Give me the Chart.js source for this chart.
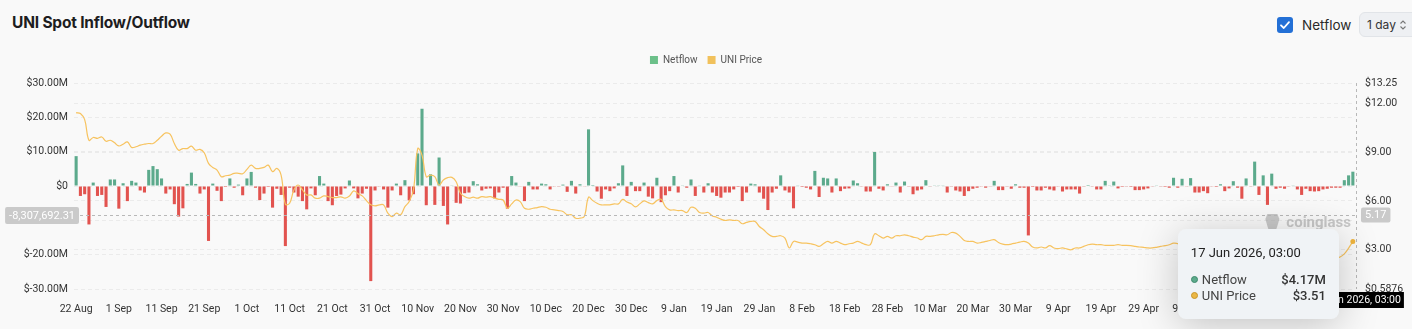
<!DOCTYPE html>
<html><head><meta charset="utf-8">
<script src="https://cdn.jsdelivr.net/npm/chart.js@4.4.1/dist/chart.umd.min.js"></script>
<style>
html,body{margin:0;padding:0;background:#f9f9f9;}
body{width:1412px;height:329px;overflow:hidden;position:relative;font-family:Inter,"Noto Sans",sans-serif;}
#title{position:absolute;left:12px;top:13px;font-size:15.5px;font-weight:700;color:#1d1d1f;letter-spacing:-0.2px;line-height:20px;}
#cb{position:absolute;left:1277px;top:17px;width:16px;height:16px;border-radius:3px;background:#2470d6;}
#cbl{position:absolute;left:1302px;top:15px;font-size:13.5px;color:#2a2a2a;line-height:20px;}
#sel{position:absolute;left:1359px;top:12px;width:62px;height:25px;border-radius:6px;background:#eef0f3;border:1px solid #e1e4e8;box-sizing:border-box;font-size:12px;color:#333;}
#sel span{position:absolute;left:7px;top:4px;line-height:15px;}
#sel svg{position:absolute;left:39px;top:6px;}
#wrap{position:absolute;left:0;top:45px;width:1412px;height:284px;}
#tt{position:absolute;width:161px;box-sizing:border-box;padding:16px 13px 15px 13px;background:#f0f3f6;border-radius:8px;box-shadow:0 6px 40px rgba(0,0,0,0.22);font-family:Roboto,"Noto Sans",sans-serif;color:#333;pointer-events:none;}
#tt .t{font-size:13px;line-height:16px;color:#222;margin-bottom:11px;}
#tt .r{display:flex;align-items:center;font-size:13px;line-height:16px;}
#tt .d{width:7px;height:7px;border-radius:50%;margin-right:4px;box-sizing:border-box;}
#tt .l{flex:1;color:#444;}
#tt .v{color:#333;font-weight:500;}
</style>
</head>
<body>
<div id="title">UNI Spot Inflow/Outflow</div>
<div id="cb"><svg width="16" height="16" viewBox="0 0 16 16"><polyline points="4,8.3 6.8,11 12,5.2" fill="none" stroke="#fff" stroke-width="1.8" stroke-linecap="round" stroke-linejoin="round"/></svg></div>
<div id="cbl">Netflow</div>
<div id="sel"><span>1 day</span><svg width="8" height="12" viewBox="0 0 8 12"><polyline points="1.5,4.5 4,2 6.5,4.5" fill="none" stroke="#777" stroke-width="1.1"/><polyline points="1.5,7.5 4,10 6.5,7.5" fill="none" stroke="#777" stroke-width="1.1"/></svg></div>
<div id="wrap"><canvas id="c"></canvas></div>
<div id="tt" style="display:none"></div>
<script>
// ---------- data ----------
const startYear = 2025, startMonth = 7, startDay = 22; // 22 Aug 2025
const dayCount = 300;
const monthNames = ['Jan','Feb','Mar','Apr','May','Jun','Jul','Aug','Sep','Oct','Nov','Dec'];
const categories = [];
for (let i = 0; i < dayCount; i++) categories.push(new Date(Date.UTC(startYear, startMonth, startDay + i)));
const tickLabels = categories.map(d => d.getUTCDate() + ' ' + monthNames[d.getUTCMonth()]);
const tickEvery = 10;

// Netflow, in millions of USD
const netflowM = [
  8.7,-2.9,-2.4,-11.2,1.0,-2.9,-2.6,-6.1,1.9,1.9,
  -6.6,0.8,-4.4,1.5,1.0,-1.3,-1.9,4.7,5.8,4.9,
  2.2,-2.2,-1.0,-5.3,-8.9,-6.5,0.6,3.9,0.6,-2.2,
  -1.0,-16.0,0.7,-1.4,-4.4,-0.3,2.2,-0.5,0.4,-2.7,
  2.2,4.1,-0.5,-4.1,-2.2,-0.3,-6.3,-0.8,-2.6,-17.5,
  -0.5,-1.9,-3.1,-4.4,-6.8,-0.7,-2.7,2.9,0.7,-4.4,
  -5.6,-2.9,-2.5,-0.7,1.6,-0.7,-3.6,-2.2,-0.8,-27.7,
  -1.3,-0.2,-1.0,-6.3,-1.3,0.7,-2.7,1.7,-4.2,-2.4,
  9.5,22.5,-5.6,3.4,-5.5,8.3,-5.8,-11.2,0.2,-4.9,
  -5.1,-2.1,-1.9,1.4,0.5,-1.3,-0.8,-0.7,-3.6,-1.9,
  -0.5,-6.6,2.9,1.0,-0.2,-4.4,1.2,-1.0,-1.0,0.7,
  0.5,-1.0,-0.2,-0.2,0.4,-1.7,1.5,-2.2,0.5,-0.1,
  16.5,0.3,-1.6,-3.7,-1.0,-1.5,-0.7,0.8,6.0,-2.9,
  1.2,-1.5,-1.5,1.0,-3.1,-3.6,2.4,-4.7,-2.7,-1.5,
  2.9,-1.9,0.2,-0.5,1.9,-2.9,0.2,-1.9,0.8,-1.9,
  -2.9,-3.4,-1.9,-1.9,-1.0,-0.3,-4.4,-1.9,0.7,0.5,
  -1.9,-3.7,-7.0,-1.9,-0.8,3.1,-1.3,-1.9,-6.5,0.2,
  -0.3,-0.5,-1.0,4.4,-3.2,2.4,2.2,-1.9,2.2,-1.5,
  -0.8,-0.7,1.6,0.8,-0.2,-1.6,-1.6,9.9,-0.8,-1.3,
  0.5,-0.2,1.0,-1.9,1.3,-0.2,-2.4,-1.3,-1.0,1.7,
  -0.1,0.2,0.2,0.2,-1.9,-0.2,-1.3,-1.6,-2.9,-1.5,
  -0.8,-0.5,-0.2,-0.5,-0.2,1.5,-1.2,-1.2,-0.2,-0.8,
  0.5,-0.5,-0.5,-14.4,-0.3,-1.3,-1.3,-0.5,-1.0,-1.3,
  -0.2,-1.6,-1.0,-1.0,-1.0,-2.2,-0.2,0.3,-0.2,-1.0,
  -1.0,1.5,0.2,1.3,-0.7,-0.3,-0.2,-0.3,-1.2,-1.2,
  -1.0,-0.7,-0.2,0.2,-0.2,-0.3,-0.5,2.4,-0.5,2.1,
  -0.2,2.3,-1.9,-1.9,-1.5,-2.1,-0.2,-0.3,0.5,-1.5,
  -0.7,1.4,-0.5,-3.7,2.2,-0.2,7.1,-2.6,3.1,-5.5,
  3.6,-0.8,-0.5,-0.8,-0.2,0.2,-1.0,-2.6,-0.8,-1.5,
  -1.6,-1.5,-1.0,-0.8,-0.5,-0.5,-0.5,1.7,3.1,4.17
];

// UNI price, USD
const priceUSD = [
  11.43,11.37,11.0,9.73,9.9,9.85,9.93,9.67,9.73,9.57,
  9.38,9.49,9.63,9.29,9.33,9.43,9.49,9.53,9.53,9.73,
  9.98,10.18,10.1,9.53,9.12,9.22,9.22,9.37,9.12,9.17,
  8.96,8.31,8.06,7.9,7.49,7.55,7.59,7.7,7.7,7.67,
  7.94,8.2,8.0,8.0,8.06,8.2,7.8,8.0,7.59,5.8,
  5.86,6.68,6.98,6.68,6.37,6.37,6.17,6.17,6.31,6.27,
  6.21,6.21,6.25,6.17,6.3,6.62,6.45,6.31,6.02,5.76,
  5.7,5.76,5.76,5.25,5.04,5.25,5.15,5.65,5.96,6.68,
  9.22,8.82,7.49,7.59,7.49,6.98,7.29,7.43,7.45,7.18,
  6.47,6.27,6.17,6.23,6.17,6.27,6.23,6.27,6.17,6.1,
  6.06,5.55,5.82,6.06,5.96,5.55,5.49,5.55,5.59,5.65,
  5.61,5.49,5.45,5.41,5.35,5.15,5.15,4.94,4.94,5.04,
  6.23,6.02,5.86,5.76,5.76,5.76,5.82,5.82,6.1,5.93,
  5.83,5.63,5.82,6.0,5.9,5.82,6.02,6.1,5.65,5.45,
  5.45,5.41,5.41,5.29,5.61,5.55,5.29,5.25,5.29,5.08,
  5.0,4.88,4.8,4.84,4.8,4.8,4.6,4.68,4.74,4.74,
  4.43,4.23,3.98,3.82,3.82,3.86,3.72,3.11,3.51,3.47,
  3.41,3.41,3.37,3.31,3.21,3.37,3.51,3.41,3.51,3.41,
  3.31,3.37,3.41,3.51,3.41,3.31,3.31,3.98,3.86,3.72,
  3.82,3.72,3.86,3.86,3.92,3.86,3.78,3.72,3.62,3.82,
  3.82,3.86,3.92,3.95,3.92,4.06,4.02,3.82,3.57,3.51,
  3.51,3.41,3.45,3.51,3.57,3.62,3.45,3.35,3.31,3.35,
  3.41,3.47,3.51,3.41,3.17,3.11,3.17,3.11,3.25,3.11,
  3.07,3.11,3.05,3.0,3.11,3.11,3.21,3.31,3.35,3.31,
  3.31,3.27,3.27,3.27,3.31,3.27,3.27,3.25,3.21,3.17,
  3.15,3.11,3.11,3.15,3.21,3.25,3.31,3.41,3.38,3.32,
  3.33,3.26,3.29,3.18,3.12,3.15,3.04,2.98,3.02,2.93,
  2.87,2.91,2.84,2.79,2.83,2.76,2.71,2.74,2.68,2.63,
  2.66,2.6,2.57,2.61,2.55,2.52,2.56,2.5,2.47,2.51,
  2.46,2.43,2.47,2.41,2.44,2.47,2.55,2.75,3.1,3.51
];

const netflowTicks = [-30,-20,-10,0,10,20,30];
const netflowTickLabels = ['$-30.00M','$-20.00M','$-10.00M','$0','$10.00M','$20.00M','$30.00M'];
const priceTicks = [0.5876,3,6,9,12,13.25];
const priceTickLabels = ['$0.5876','$3.00','$6.00','$9.00','$12.00','$13.25'];

const hoverIndex = 299;
const hoverTime = '03:00';
const crosshairNetflow = -8307692.31;

// ---------- styles ----------
const GREEN = '#5caa8c', RED = '#e2534f', PRICE = '#f7c35f';
const LEGEND_GREEN = '#6cc08a', LEGEND_PRICE = '#f1c15c';
const TICK_FONT = {family:'Roboto', size:10.5};

function fullDate(i){ const d = categories[i]; return d.getUTCDate()+' '+monthNames[d.getUTCMonth()]+' '+d.getUTCFullYear()+', '+hoverTime; }

function externalTooltip(context){
  const {chart, tooltip} = context;
  const el = document.getElementById('tt');
  if (!tooltip || tooltip.opacity === 0 || !tooltip.dataPoints || !tooltip.dataPoints.length){ el.style.display='none'; return; }
  const idx = tooltip.dataPoints[0].dataIndex;
  const pts = tooltip.dataPoints.slice().sort((a,b)=>a.datasetIndex-b.datasetIndex);
  let html = '<div class="t">'+fullDate(idx)+'</div>';
  pts.forEach(p=>{
    const isFlow = p.datasetIndex===0;
    const col = isFlow ? GREEN : '#ebb746';
    const border = isFlow ? '#3f8a6d' : '#c8962a';
    const val = isFlow ? '$'+p.raw.toFixed(2)+'M' : '$'+p.raw.toFixed(2);
    html += '<div class="r"><span class="d" style="background:'+col+';border:1px solid '+border+'"></span><span class="l">'+p.dataset.label+'</span><span class="v">'+val+'</span></div>';
  });
  el.innerHTML = html;
  el.style.display = 'block';
  const wrap = document.getElementById('wrap');
  const crossY = chart.scales.y.getPixelForValue(crosshairNetflow/1e6);
  el.style.left = (wrap.offsetLeft + tooltip.caretX - el.offsetWidth - 14) + 'px';
  el.style.top = (wrap.offsetTop + crossY + 14) + 'px';
}

const legendGap = {
  id:'legendGap',
  beforeInit(chart){
    if (!chart.legend) return;
    const orig = chart.legend.fit;
    chart.legend.fit = function(){ orig.call(this); this.height += 8; };
  }
};

const overlay = {
  id:'overlay',
  beforeDatasetsDraw(chart){
    const {ctx, chartArea:a} = chart;
    ctx.save();
    ctx.fillStyle = 'rgba(160,160,160,0.55)';
    ctx.font = 'bold 15px Roboto';
    ctx.textAlign = 'right'; ctx.textBaseline = 'middle';
    const wy = a.bottom - 66;
    ctx.fillText('coinglass', a.right - 4, wy);
    const tw = ctx.measureText('coinglass').width;
    const lx = a.right - 4 - tw - 22;
    ctx.beginPath();
    ctx.moveTo(lx+3, wy-9); ctx.lineTo(lx+13, wy-9); ctx.lineTo(lx+15, wy-4); ctx.lineTo(lx+13, wy+3);
    ctx.lineTo(lx+11, wy+9); ctx.lineTo(lx+5, wy+9); ctx.lineTo(lx+3, wy+3); ctx.lineTo(lx+1, wy-4); ctx.closePath();
    ctx.fill();
    ctx.restore();
  },
  afterDatasetsDraw(chart){
    const {ctx, chartArea:a, scales} = chart;
    const x = Math.round(a.right + 1) + 0.5;
    const yPix = scales.y.getPixelForValue(crosshairNetflow/1e6);
    const y = Math.round(yPix) + 0.5;
    ctx.save();
    ctx.strokeStyle = '#b8b8b8'; ctx.lineWidth = 1; ctx.setLineDash([3,3]);
    ctx.beginPath(); ctx.moveTo(x, a.top); ctx.lineTo(x, a.bottom); ctx.stroke();
    ctx.beginPath(); ctx.moveTo(a.left, y); ctx.lineTo(x, y); ctx.stroke();
    ctx.setLineDash([]);
    ctx.font = '11px Roboto'; ctx.textBaseline = 'middle';
    // left value label
    const lt = crosshairNetflow.toLocaleString('en-US',{minimumFractionDigits:2,maximumFractionDigits:2});
    const lw = ctx.measureText(lt).width + 8;
    const lr = a.left + 5;
    ctx.fillStyle = '#cacaca';
    roundRect(ctx, lr - lw, y - 8.5, lw, 17, 2); ctx.fill();
    ctx.fillStyle = '#ffffff'; ctx.textAlign = 'center';
    ctx.fillText(lt, lr - lw/2, y + 0.5);
    // right value label
    const rt = scales.y1.getValueForPixel(yPix).toFixed(2);
    const rw = ctx.measureText(rt).width + 8;
    ctx.fillStyle = '#cacaca';
    roundRect(ctx, a.right + 6, y - 8, rw, 15, 2); ctx.fill();
    ctx.fillStyle = '#ffffff';
    ctx.fillText(rt, a.right + 6 + rw/2, y);
    // bottom date label
    ctx.font = '10.5px Roboto';
    const bt = fullDate(hoverIndex);
    const bw = ctx.measureText(bt).width + 6;
    ctx.fillStyle = '#000000';
    ctx.fillRect(x - bw/2, a.bottom + 3, bw, 16);
    ctx.fillStyle = '#ffffff';
    ctx.fillText(bt, x, a.bottom + 11.5);
    ctx.restore();
  }
};
function roundRect(ctx,x,y,w,h,r){ ctx.beginPath(); ctx.moveTo(x+r,y); ctx.lineTo(x+w-r,y); ctx.quadraticCurveTo(x+w,y,x+w,y+r); ctx.lineTo(x+w,y+h-r); ctx.quadraticCurveTo(x+w,y+h,x+w-r,y+h); ctx.lineTo(x+r,y+h); ctx.quadraticCurveTo(x,y+h,x,y+h-r); ctx.lineTo(x,y+r); ctx.quadraticCurveTo(x,y,x+r,y); ctx.closePath(); }

const chart = new Chart(document.getElementById('c'), {
  type:'bar',
  data:{
    labels: tickLabels,
    datasets:[
      {type:'bar', label:'Netflow', data: netflowM, yAxisID:'y',
       backgroundColor: netflowM.map(v => v >= 0 ? GREEN : RED),
       hoverBackgroundColor: netflowM.map(v => v >= 0 ? GREEN : RED),
       barPercentage:0.72, categoryPercentage:1.0, order:2},
      {type:'line', label:'UNI Price', data: priceUSD, yAxisID:'y1',
       borderColor: PRICE, borderWidth:1.2, pointRadius:0, pointHoverRadius:2.5,
       pointHoverBackgroundColor:'#f0b43c', pointHoverBorderWidth:0, tension:0.4, order:1}
    ]
  },
  options:{
    responsive:true, maintainAspectRatio:false, animation:false,
    events:[],
    interaction:{mode:'index', intersect:false},
    layout:{padding:0},
    scales:{
      x:{
        grid:{display:false}, border:{display:false},
        ticks:{autoSkip:false, maxRotation:0, minRotation:0, padding:6, color:'#333', font:TICK_FONT,
          callback:(v,i)=> i % tickEvery === 0 ? tickLabels[i] : null},
        afterFit:s=>{ s.height = 40; }
      },
      y:{
        position:'left', min:-30, max:30,
        afterBuildTicks:s=>{ s.ticks = netflowTicks.map(v=>({value:v})); },
        ticks:{padding:6, color:'#333', font:TICK_FONT, callback:(v,i)=> netflowTickLabels[i]},
        grid:{color:'#ebebeb', drawTicks:false},
        border:{display:false, dash:[4,3]},
        afterFit:s=>{ s.width = 74; }
      },
      y1:{
        position:'right', min:priceTicks[0], max:priceTicks[priceTicks.length-1],
        afterBuildTicks:s=>{ s.ticks = priceTicks.map(v=>({value:v})); },
        ticks:{padding:10, color:'#333', font:TICK_FONT, callback:(v,i)=> priceTickLabels[i]},
        grid:{color:'#ebebeb', drawTicks:false},
        border:{display:false, dash:[4,3]},
        afterFit:s=>{ s.width = 57; }
      }
    },
    plugins:{
      legend:{
        position:'top',
        labels:{boxWidth:8, boxHeight:8, padding:10, color:'#555', font:{family:'Roboto', size:10},
          generateLabels:()=>[
            {text:'Netflow', fillStyle:LEGEND_GREEN, strokeStyle:LEGEND_GREEN, lineWidth:0, hidden:false, datasetIndex:0, fontColor:'#555'},
            {text:'UNI Price', fillStyle:LEGEND_PRICE, strokeStyle:LEGEND_PRICE, lineWidth:0, hidden:false, datasetIndex:1, fontColor:'#555'}
          ]}
      },
      tooltip:{enabled:false, mode:'index', intersect:false, external: externalTooltip}
    }
  },
  plugins:[legendGap, overlay]
});

const act = [{datasetIndex:0, index:hoverIndex},{datasetIndex:1, index:hoverIndex}];
chart.setActiveElements(act);
chart.tooltip.setActiveElements(act, {x: chart.chartArea.right + 1, y: chart.scales.y.getPixelForValue(crosshairNetflow/1e6)});
chart.update();
</script>
</body></html>
